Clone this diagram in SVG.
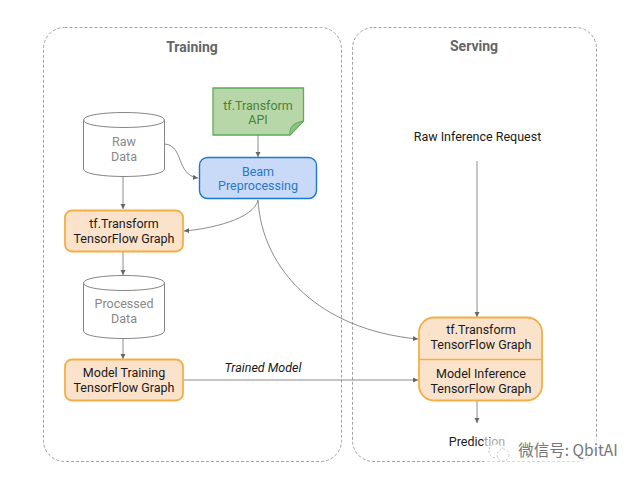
<svg xmlns="http://www.w3.org/2000/svg" width="640" height="480" viewBox="0 0 640 480">
<style>
text{font-family:Roboto,"Liberation Sans",sans-serif;font-size:12.5px;text-anchor:middle;fill:#1a1a1a}
.panel{fill:none;stroke:#8a8a8a;stroke-width:.8;stroke-dasharray:3 2}
.title{font-size:14px;font-weight:700;fill:#666}
.cyl{fill:#fff;stroke:#777;stroke-width:.9}
.grey{fill:#888}
.or{fill:#fbe3cb;stroke:#f5ae45;stroke-width:1.8}
.c{fill:none;stroke:#6e6e6e;stroke-width:.8;marker-end:url(#a)}
</style>
<defs><marker id="a" markerUnits="userSpaceOnUse" markerWidth="6" markerHeight="6" refX="5" refY="2.500" orient="auto"><path d="M0 0L5 2.500L0 5z" fill="#666"/></marker></defs>
<rect width="640" height="480" fill="#fff"/>
<g id="training"><rect class="panel" x="43.500" y="27.500" width="298" height="434" rx="21"/><text class="title" x="192" y="52">Training</text></g>
<g id="serving"><rect class="panel" x="352.500" y="27.500" width="244" height="434" rx="21"/><text class="title" x="474" y="51">Serving</text></g>
<g id="connectors">
<path class="c" d="M258 135V157"/>
<path class="c" d="M165 144C184 146 176 175 198 178"/>
<path class="c" d="M123 176V209"/>
<path class="c" d="M258 200C254 219 210 229 184 231"/>
<path class="c" d="M123 252V275"/>
<path class="c" d="M123 338V359"/>
<path class="c" d="M258 200C262 270 320 330 418 339"/>
<path class="c" d="M184 380H418"/>
<path class="c" d="M477 161V317"/>
<path class="c" d="M477 401V423"/>
</g>
<g id="raw-data"><path class="cyl" d="M83.500 120C83.500 110 164.500 110 164.500 120V169C164.500 179 83.500 179 83.500 169Z"/><path class="cyl" d="M83.500 120C83.500 130 164.500 130 164.500 120"/><text class="grey" x="124" y="146">Raw</text><text class="grey" x="124" y="161">Data</text></g>
<g id="api"><path d="M213 88H303.500V121L290 135H213Z" fill="#b7d7a8" stroke="#5eaa57" stroke-width="1.300"/><path d="M303.500 121L290 135C289 126 294 123 303.500 121Z" fill="#8fc084" stroke="#5eaa57"/><text x="258" y="110" style="fill:#4a8236">tf.Transform</text><text x="258" y="124" style="fill:#4a8236">API</text></g>
<g id="beam"><rect x="199.500" y="157.500" width="117" height="41" rx="8" fill="#c9daf8" stroke="#1c78c9" stroke-width="1.400"/><text x="258" y="176" style="fill:#2a78c8">Beam</text><text x="258" y="190" style="fill:#2a78c8">Preprocessing</text></g>
<g id="tft-graph"><rect class="or" x="65" y="210.500" width="118" height="41" rx="7"/><text x="124" y="228">tf.Transform</text><text x="124" y="243">TensorFlow Graph</text></g>
<g id="processed-data"><path class="cyl" d="M83.500 283C83.500 273 164.500 273 164.500 283V331C164.500 341 83.500 341 83.500 331Z"/><path class="cyl" d="M83.500 283C83.500 293 164.500 293 164.500 283"/><text class="grey" x="124" y="308">Processed</text><text class="grey" x="124" y="323">Data</text></g>
<g id="model-training"><rect class="or" x="65" y="359.500" width="118" height="41" rx="7"/><text x="124" y="377">Model Training</text><text x="124" y="392">TensorFlow Graph</text></g>
<text x="263" y="372" style="font-style:italic">Trained Model</text>
<g id="raw-request"><text x="477.500" y="141">Raw Inference Request</text></g>
<g id="serving-graph"><rect class="or" x="419" y="317.500" width="123" height="83" rx="15"/><path d="M419 359.500H542" stroke="#f5ae45" stroke-width="1.500"/><text x="481" y="334">tf.Transform</text><text x="481" y="349">TensorFlow Graph</text><text x="481" y="378">Model Inference</text><text x="481" y="393">TensorFlow Graph</text></g>
<g id="prediction"><text x="477" y="446">Prediction</text></g>
<g id="watermark"><rect x="484" y="438" width="140" height="24" fill="#fff" fill-opacity=".6"/><text x="568" y="456" style="font-family:'Noto Sans CJK SC','Liberation Sans',sans-serif;font-size:15.500px;fill:#777">微信号: QbitAI</text><circle cx="496" cy="451" r="7" fill="#fff" stroke="#aaa" stroke-width=".7" stroke-dasharray="2 2"/><circle cx="503" cy="455" r="6" fill="#fff" stroke="#aaa" stroke-width=".7" stroke-dasharray="2 2"/></g>
</svg>
